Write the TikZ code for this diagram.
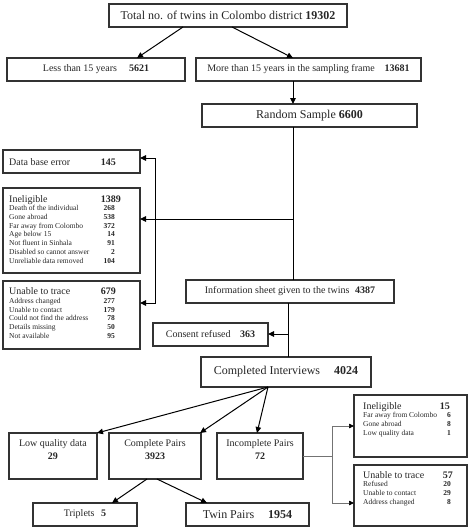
\documentclass[tikz,border=0pt]{standalone}
\usepackage{fontspec}
\setmainfont{Liberation Serif}
\usetikzlibrary{arrows.meta,calc}
\newcommand\fsBig{\fontsize{12}{14}\selectfont}
\newcommand\fsMid{\fontsize{10}{12}\selectfont}
\newcommand\fsSm{\fontsize{7.5}{9}\selectfont}
\begin{document}
\begin{tikzpicture}[x=1pt,y=-1pt,
  box/.style={draw=black!80, line width=1.1pt, inner sep=0pt, outer sep=0pt, rectangle, anchor=north west, text=black!85},
  conn/.style={draw=black, line width=1pt, -{Triangle[length=6pt,width=5.5pt]}},
  plain/.style={draw=black, line width=1pt},
  gline/.style={draw=black!55, line width=0.7pt},
  garrow/.style={draw=black!55, line width=0.7pt, -{Triangle[length=5pt,width=4.5pt,color=black]}},
  ttl/.style={font=\fsMid, inner sep=0pt, anchor=base west, text=black!85},
  ttln/.style={font=\fsMid\bfseries, inner sep=0pt, anchor=base east, text=black!85},
  itm/.style={font=\fsSm, inner sep=0pt, anchor=base west, text=black!85},
  itmn/.style={font=\fsSm\bfseries, inner sep=0pt, anchor=base east, text=black!85},
  ctr/.style={font=\fsMid, inner sep=0pt, anchor=base, text=black!85}
]
\useasboundingbox (0,0) rectangle (474,531);

% single-line boxes
\node[box, minimum width=238pt, minimum height=23pt, font=\fsBig] (tot) at (109,4) {Total no. of twins in Colombo district \textbf{19302}};
\node[box, minimum width=178pt, minimum height=23pt, font=\fsMid] (less) at (7,58) {Less than 15 years\hspace{12pt}\textbf{5621}};
\node[box, minimum width=225pt, minimum height=23pt, font=\fsMid] (more) at (196,58) {More than 15 years in the sampling frame\hspace{10pt}\textbf{13681}};
\node[box, minimum width=215pt, minimum height=23pt, font=\fsBig] (rand) at (202,104) {Random Sample \textbf{6600}};
\node[box, minimum width=208pt, minimum height=23pt, font=\fsMid] (info) at (186,280) {Information sheet given to the twins\hspace{3pt} \textbf{4387}};
\node[box, minimum width=115pt, minimum height=23pt, font=\fsMid] (cons) at (153,323) {Consent refused\hspace{7pt} \textbf{363}};
\node[box, minimum width=170pt, minimum height=30pt, font=\fsBig] (comp) at (201,357) {Completed Interviews\hspace{14pt}\textbf{4024}};
\node[box, minimum width=104pt, minimum height=23pt, font=\fsMid] (trip) at (33,503) {Triplets\hspace{4pt} \textbf{5}};
\node[box, minimum width=123pt, minimum height=23pt, font=\fsBig] (twin) at (186,503) {Twin Pairs\hspace{14pt}\textbf{1954}};

% multi-line boxes
\node[box, minimum width=137pt, minimum height=23pt] (db) at (3,150) {};
\node[box, minimum width=137pt, minimum height=85pt] (ine) at (3,188) {};
\node[box, minimum width=137pt, minimum height=68pt] (unt) at (3,281) {};
\node[box, minimum width=88pt, minimum height=46pt] (low) at (9,433) {};
\node[box, minimum width=92pt, minimum height=46pt] (cpair) at (109,433) {};
\node[box, minimum width=86pt, minimum height=46pt] (ipair) at (217,433) {};
\node[box, minimum width=113pt, minimum height=62pt] (ine2) at (354,395) {};
\node[box, minimum width=113pt, minimum height=61pt] (unt2) at (354,465) {};

% data base error
\node[ttl] (dbt) at (9,165) {Data base error};
\node[ttln] (dbn) at (116,165) {145};

% ineligible (left)
\node[ttl] (inet) at (9,202) {Ineligible};
\node[ttln] (inen) at (121,202) {1389};
\foreach \t/\n [count=\i from 0] in {Death of the individual/268, Gone abroad/538, Far away from Colombo/372, Age below 15/14, Not fluent in Sinhala/91, Disabled so cannot answer/2, Unreliable data removed/104} {
  \node[itm] (inei\i) at (9,{210.5+8.8*\i}) {\t};
  \node[itmn] (ineni\i) at (115,{210.5+8.8*\i}) {\n};
}

% unable to trace (left)
\node[ttl] (untt) at (9,294) {Unable to trace};
\node[ttln] (untn) at (116,294) {679};
\foreach \t/\n [count=\i from 0] in {Address changed/277, Unable to contact/179, Could not find the address/78, Details missing/50, Not available/95} {
  \node[itm] (unti\i) at (9,{303.5+8.7*\i}) {\t};
  \node[itmn] (untni\i) at (115,{303.5+8.7*\i}) {\n};
}

% bottom two-line boxes
\node[ctr] (lowt) at (53,446.5) {Low quality data};
\node[ctr, font=\fsMid\bfseries] (lown) at (53,459) {29};
\node[ctr] (cpt) at (155,446.5) {Complete Pairs};
\node[ctr, font=\fsMid\bfseries] (cpn) at (155,459) {3923};
\node[ctr] (ipt) at (260,446.5) {Incomplete Pairs};
\node[ctr, font=\fsMid\bfseries] (ipn) at (260,459) {72};

% ineligible (right)
\node[ttl] (ine2t) at (363,409) {Ineligible};
\node[ttln] (ine2n) at (450,409) {15};
\foreach \t/\n [count=\i from 0] in {Far away from Colombo/6, Gone abroad/8, Low quality data/1} {
  \node[itm] (ine2i\i) at (363,{417.5+9*\i}) {\t};
  \node[itmn] (ine2ni\i) at (451,{417.5+9*\i}) {\n};
}

% unable to trace (right)
\node[ttl] (unt2t) at (363,478) {Unable to trace};
\node[ttln] (unt2n) at (453,478) {57};
\foreach \t/\n [count=\i from 0] in {Refused/20, Unable to contact/29, Address changed/8} {
  \node[itm] (unt2i\i) at (363,{486.5+9*\i}) {\t};
  \node[itmn] (unt2ni\i) at (451,{486.5+9*\i}) {\n};
}

% connectors
\draw[conn] ($(tot.south west)+(74,0)$) -- ($(less.north west)+(130,0)$);
\draw[conn] ($(tot.south west)+(123,0)$) -- ($(more.north west)+(97,0)$);
\draw[conn] ($(more.south west)+(97,0)$) -- ($(rand.north west)+(91,0)$);
\draw[plain] ($(rand.south west)+(91,0)$) -- ($(info.north west)+(107,0)$);
\coordinate (j1) at ($(rand.south west)+(91,92)$);
\draw[conn] (j1) -- (j1 -| ine.east);
\coordinate (b1) at ($(db.north east)+(15,8)$);
\coordinate (b2) at ($(unt.north east)+(15,22)$);
\draw[plain, {Triangle[length=6pt,width=5.5pt]}-{Triangle[length=6pt,width=5.5pt]}] (b1 -| db.east) -- (b1) -- (b2) -- (b2 -| unt.east);
\draw[plain] ($(info.south west)+(102,0)$) -- ($(comp.north west)+(87,0)$);
\coordinate (j2) at ($(info.south west)+(102,31)$);
\draw[conn] (j2) -- (j2 -| cons.east);
\coordinate (c0) at ($(comp.south west)+(67,0)$);
\draw[conn] (c0) -- (low.north east);
\draw[conn] (c0) -- ($(cpair.north east)+(-1,0)$);
\draw[conn] (c0) -- ($(ipair.north west)+(40,0)$);
\draw[conn] ($(cpair.south west)+(38,0)$) -- ($(trip.north west)+(79,0)$);
\draw[conn] ($(cpair.south west)+(48,0)$) -- ($(twin.north west)+(21,0)$);
\coordinate (j3) at ($(ipair.east)+(29,0)$);
\draw[gline] (ipair.east) -- (j3);
\draw[garrow] (j3) |- ($(ine2.north west)+(0,31)$);
\draw[garrow] (j3) |- ($(unt2.north west)+(0,38)$);
\end{tikzpicture}
\end{document}
